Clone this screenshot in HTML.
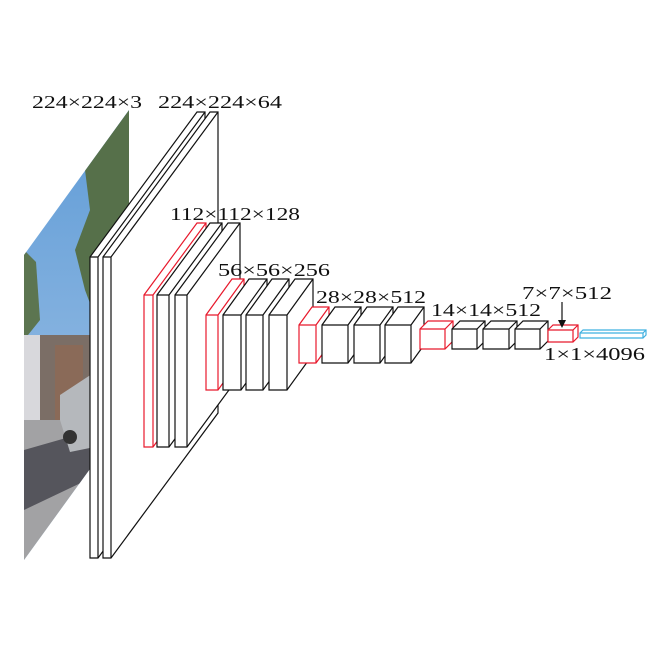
<!DOCTYPE html>
<html><head><meta charset="utf-8"><style>
html,body{margin:0;padding:0;background:#fff;}
svg{display:block;}
text{font-family:"Liberation Serif","DejaVu Serif",serif;font-size:18px;fill:#111;}
</style></head><body>
<svg width="652" height="652" viewBox="0 0 652 652" xmlns="http://www.w3.org/2000/svg">
<defs>
<clipPath id="pc"><polygon points="24,255 129,110 129,415 24,560"/></clipPath>
<linearGradient id="sky" x1="0" y1="0" x2="0" y2="1">
<stop offset="0" stop-color="#5d9ad6"/><stop offset="1" stop-color="#a9c8e8"/></linearGradient>
</defs>
<g clip-path="url(#pc)">
<rect x="20" y="100" width="115" height="470" fill="url(#sky)"/>
<polygon points="85,170 129,110 129,330 100,330 85,290 75,250 90,210" fill="#56704a"/>
<polygon points="24,250 36,262 40,320 24,340" fill="#5c7550"/>
<rect x="24" y="335" width="105" height="110" fill="#7b6e66"/>
<rect x="24" y="335" width="16" height="110" fill="#d8d8dc"/>
<rect x="55" y="345" width="28" height="90" fill="#8a6a58"/>
<rect x="24" y="420" width="105" height="150" fill="#a2a2a4"/>
<polygon points="24,450 129,420 129,460 24,510" fill="#55555c"/>
<polygon points="60,395 95,372 129,362 129,440 70,452 60,420" fill="#b5b8bc"/>
<circle cx="70" cy="437" r="7" fill="#333"/>
</g>
<g fill="#fff" stroke="#111" stroke-width="1.2">
<path d="M90,558 V257 L197,112 H205 V413 L98,558 Z"/><path fill="none" d="M90,257 H98 L205,112 M98,257 V558"/>
<path d="M103,558 V257 L210,112 H218 V413 L111,558 Z"/><path fill="none" d="M103,257 H111 L218,112 M111,257 V558"/>
<path stroke="#e8192c" d="M144,447 V295 L197,223 H206 V375 L153,447 Z"/><path fill="none" stroke="#e8192c" d="M144,295 H153 L206,223 M153,295 V447"/>
<path d="M157,447 V295 L210,223 H222 V375 L169,447 Z"/><path fill="none" d="M157,295 H169 L222,223 M169,295 V447"/>
<path d="M175,447 V295 L228,223 H240 V375 L187,447 Z"/><path fill="none" d="M175,295 H187 L240,223 M187,295 V447"/>
<path stroke="#e8192c" d="M206,390 V315 L232,279 H244 V354 L218,390 Z"/><path fill="none" stroke="#e8192c" d="M206,315 H218 L244,279 M218,315 V390"/>
<path d="M223,390 V315 L249,279 H267 V354 L241,390 Z"/><path fill="none" d="M223,315 H241 L267,279 M241,315 V390"/>
<path d="M246,390 V315 L272,279 H289 V354 L263,390 Z"/><path fill="none" d="M246,315 H263 L289,279 M263,315 V390"/>
<path d="M269,390 V315 L295,279 H313 V354 L287,390 Z"/><path fill="none" d="M269,315 H287 L313,279 M287,315 V390"/>
<path stroke="#e8192c" d="M299,363 V325 L312,307 H329 V345 L316,363 Z"/><path fill="none" stroke="#e8192c" d="M299,325 H316 L329,307 M316,325 V363"/>
<path d="M322,363 V325 L335,307 H361 V345 L348,363 Z"/><path fill="none" d="M322,325 H348 L361,307 M348,325 V363"/>
<path d="M354,363 V325 L367,307 H393 V345 L380,363 Z"/><path fill="none" d="M354,325 H380 L393,307 M380,325 V363"/>
<path d="M385,363 V325 L398,307 H424 V345 L411,363 Z"/><path fill="none" d="M385,325 H411 L424,307 M411,325 V363"/>
<path stroke="#e8192c" d="M420,349 V329 L428,321 H453 V341 L445,349 Z"/><path fill="none" stroke="#e8192c" d="M420,329 H445 L453,321 M445,329 V349"/>
<path d="M452,349 V329 L460,321 H485 V341 L477,349 Z"/><path fill="none" d="M452,329 H477 L485,321 M477,329 V349"/>
<path d="M483,349 V329 L491,321 H517 V341 L509,349 Z"/><path fill="none" d="M483,329 H509 L517,321 M509,329 V349"/>
<path d="M515,349 V329 L523,321 H548 V341 L540,349 Z"/><path fill="none" d="M515,329 H540 L548,321 M540,329 V349"/>
<path stroke="#e8192c" d="M548,342 V330 L553,325 H578 V337 L573,342 Z"/><path fill="none" stroke="#e8192c" d="M548,330 H573 L578,325 M573,330 V342"/>
<path stroke="#3fb0e0" d="M580,338 V333 L583,330 H646 V335 L643,338 Z"/><path fill="none" stroke="#3fb0e0" d="M580,333 H643 L646,330 M643,333 V338"/>
</g>
<line x1="562" y1="302" x2="562" y2="322" stroke="#111" stroke-width="1.2"/>
<polygon points="558,320 566,320 562,328" fill="#111"/>
<text x="32" y="108" textLength="110" lengthAdjust="spacingAndGlyphs">224×224×3</text>
<text x="158" y="108" textLength="124" lengthAdjust="spacingAndGlyphs">224×224×64</text>
<text x="170" y="220" textLength="130" lengthAdjust="spacingAndGlyphs">112×112×128</text>
<text x="218" y="276" textLength="112" lengthAdjust="spacingAndGlyphs">56×56×256</text>
<text x="316" y="303" textLength="110" lengthAdjust="spacingAndGlyphs">28×28×512</text>
<text x="431" y="316" textLength="110" lengthAdjust="spacingAndGlyphs">14×14×512</text>
<text x="522" y="299" textLength="90" lengthAdjust="spacingAndGlyphs">7×7×512</text>
<text x="544" y="360" textLength="101" lengthAdjust="spacingAndGlyphs">1×1×4096</text>
</svg>
</body></html>
